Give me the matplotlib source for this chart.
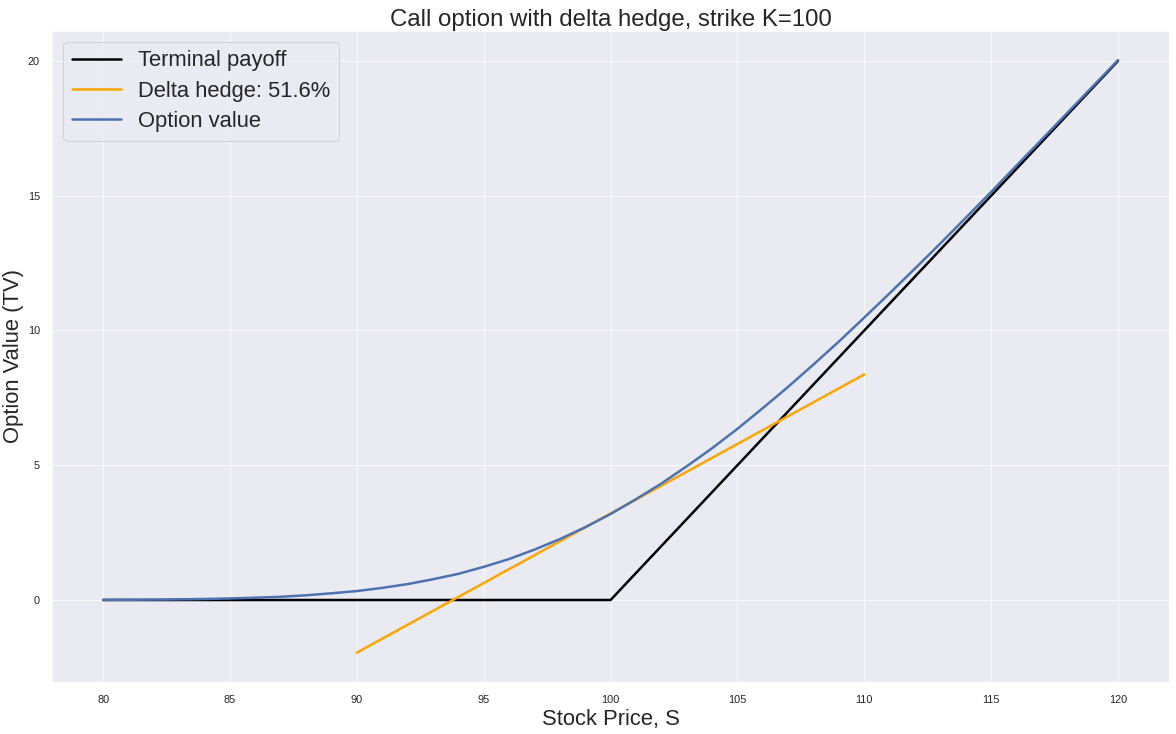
import numpy as np
import matplotlib
matplotlib.use("Agg")
import matplotlib.pyplot as plt
import seaborn as sns

# option value, S = 80..120 step 1
stock = list(range(80, 121))
option_value = [0.006, 0.009, 0.015, 0.024, 0.038, 0.058, 0.085, 0.12, 0.175, 0.249,
                0.332, 0.45, 0.59, 0.77, 0.97, 1.23, 1.52, 1.87, 2.26, 2.70,
                3.19, 3.74, 4.32, 4.96, 5.63, 6.35, 7.12, 7.91, 8.74, 9.59,
                10.48, 11.38, 12.30, 13.23, 14.18, 15.14, 16.12, 17.09, 18.07, 19.05,
                20.03]

payoff_s = [80, 100, 120]
payoff_v = [0, 0, 20]

hedge_s = [90, 110]
hedge_v = [-1.95, 8.37]
delta = 51.6

sns.set_style("darkgrid")
plt.rcParams['font.family'] = ['Liberation Sans', 'DejaVu Sans']

fig, ax = plt.subplots(figsize=(1176 / 72, 734 / 72), dpi=72)
ax.plot(payoff_s, payoff_v, color='black', lw=2.5, label='Terminal payoff')
ax.plot(hedge_s, hedge_v, color='orange', lw=2.5, label='Delta hedge: %.1f%%' % delta)
ax.plot(stock, option_value, color='#4c72b0', lw=2.5, label='Option value')

ax.set_title('Call option with delta hedge, strike K=100', fontsize=24, color='#262626', pad=5)
ax.set_xlabel('Stock Price, S', fontsize=22, color='#262626')
ax.set_ylabel('Option Value (TV)', fontsize=22, color='#262626')
ax.tick_params(labelsize=11, colors='#262626', pad=9)
ax.legend(loc='upper left', fontsize=22, handlelength=2.2, labelspacing=0.42,
          borderaxespad=0.5)

fig.subplots_adjust(left=0.0446, right=0.9938, top=0.9584, bottom=0.0706)
fig.savefig('out.png', dpi=72)
